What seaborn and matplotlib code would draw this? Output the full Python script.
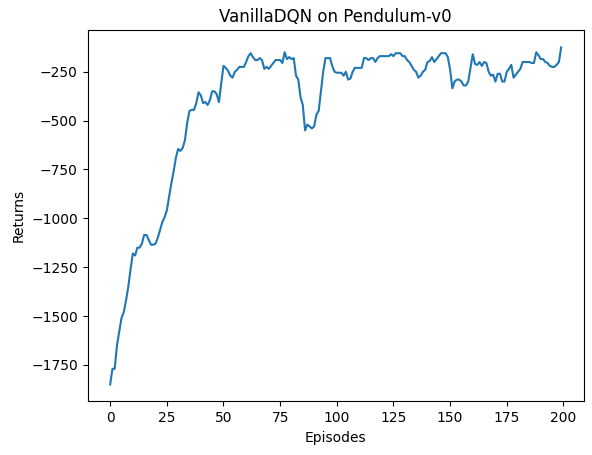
import matplotlib
matplotlib.use("Agg")
import matplotlib.pyplot as plt
import seaborn as sns
import numpy as np

returns = [
-1850,-1770,-1770,-1650,-1580,-1510,-1480,-1420,-1350,-1260,-1180,
-1190,-1150,-1150,-1130,-1085,-1085,-1110,-1135,-1135,-1130,
-1100,-1060,-1020,-995,-960,-890,-820,-760,-690,-645,
-655,-640,-600,-510,-450,-445,-445,-410,-355,-370,
-410,-405,-420,-395,-350,-350,-365,-405,-310,-220,
-230,-245,-270,-280,-250,-240,-225,-225,-225,-200,
-170,-155,-175,-190,-190,-180,-190,-235,-225,-235,
-220,-205,-190,-190,-190,-205,-150,-185,-175,-185,
-180,-270,-290,-380,-420,-550,-520,-530,-540,-530,
-470,-450,-350,-250,-180,-180,-180,-220,-250,-255,
-255,-255,-270,-250,-290,-285,-250,-230,-230,-230,
-230,-180,-180,-190,-180,-180,-200,-180,-170,-170,
-170,-170,-170,-160,-170,-155,-155,-155,-170,-170,
-190,-200,-220,-240,-250,-280,-270,-250,-240,-200,
-195,-175,-200,-185,-170,-155,-155,-155,-175,-240,
-335,-300,-290,-290,-300,-320,-320,-300,-230,-160,
-210,-215,-200,-220,-200,-205,-250,-270,-265,-300,
-260,-260,-300,-300,-250,-235,-215,-280,-265,-250,
-235,-200,-200,-200,-200,-205,-205,-150,-165,-185,
-185,-200,-205,-220,-225,-225,-215,-200,-125]
episodes = list(range(len(returns)))

fig, ax = plt.subplots(figsize=(5.92, 4.55), dpi=100)
sns.lineplot(x=episodes, y=returns, ax=ax, color="#1f77b4")
ax.set_xlabel("Episodes")
ax.set_ylabel("Returns")
ax.set_title("VanillaDQN on Pendulum-v0")
fig.subplots_adjust(left=0.148, right=0.986, bottom=0.118, top=0.933)
fig.savefig("out.png")
